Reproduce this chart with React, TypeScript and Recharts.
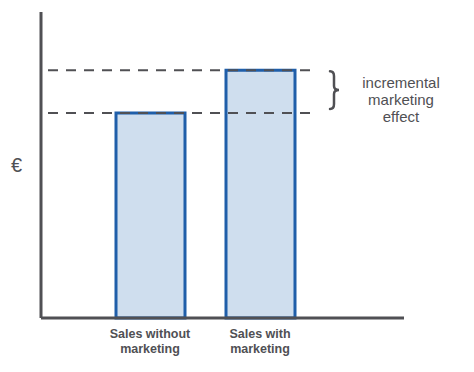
import React from "react";
import { BarChart, Bar, XAxis, YAxis, ReferenceLine, ReferenceArea } from "recharts";

const categories = ["Sales without marketing", "Sales with marketing"];
const tickLines = [["Sales without", "marketing"], ["Sales with", "marketing"]];
const salesValues = [67, 81];
const baselineValue = 67;
const withMarketingValue = 81;
const effectLabel = ["incremental", "marketing", "effect"];
const yLabel = "€";

const data = categories.map((c, i) => ({ name: c, value: salesValues[i] }));

const FONT = "'Liberation Sans', Arial, sans-serif";
const GREY = "#505054";

const DashedLine = (props: any) => {
  const { x1, y1 } = props;
  return (
    <line x1={x1 + 7} x2={x1 + 277} y1={y1} y2={y1} stroke={GREY} strokeWidth={2} strokeDasharray="10 8" />
  );
};

const Brace = (props: any) => {
  const { x, y, width, height } = props;
  const right = x + width;
  const bx = right + 19;
  const top = y;
  const bot = y + height - 3;
  const mid = (top + bot) / 2;
  const path = `M ${bx - 4} ${top + 1} Q ${bx} ${top + 1} ${bx} ${top + 6} L ${bx} ${mid - 4} Q ${bx} ${mid} ${bx + 5} ${mid} Q ${bx} ${mid} ${bx} ${mid + 4} L ${bx} ${bot - 6} Q ${bx} ${bot - 1} ${bx - 4} ${bot - 1}`;
  const tx = right + 86;
  const textTop = (y + y + height) / 2 - 3.5;
  return (
    <g>
      <path d={path} fill="none" stroke={GREY} strokeWidth={2.5} strokeLinecap="round" />
      <text x={tx} y={textTop} textAnchor="middle" fontFamily={FONT} fontSize={15} fill={GREY}>
        {effectLabel.map((t, i) => (
          <tspan key={i} x={tx} dy={i === 0 ? 0 : 17}>
            {t}
          </tspan>
        ))}
      </text>
    </g>
  );
};

const Tick = (props: any) => {
  const { x, y, index } = props;
  const lines = tickLines[index] || [];
  return (
    <text x={x} y={y + 18} textAnchor="middle" fontFamily={FONT} fontWeight="bold" fontSize={12.5} fill={GREY}>
      {lines.map((l, i) => (
        <tspan key={i} x={x} dy={i === 0 ? 0 : 15}>
          {l}
        </tspan>
      ))}
    </text>
  );
};

export default function App() {
  return (
    <div style={{ position: "absolute", left: 0, top: 0, background: "#fff" }}>
      <BarChart width={474} height={372} data={data} margin={{ top: 12, right: 70, bottom: 14, left: 0 }}>
        <XAxis
          dataKey="name"
          padding={{ left: 54, right: 89 }}
          axisLine={{ stroke: GREY, strokeWidth: 3 }}
          tickLine={false}
          tickSize={0}
          tick={<Tick />}
          height={40}
          interval={0}
        />
        <YAxis
          domain={[0, 100]}
          width={41}
          tick={false}
          tickLine={false}
          axisLine={{ stroke: GREY, strokeWidth: 3 }}
          label={{ value: yLabel, position: "insideLeft", offset: 11, fill: GREY, fontSize: 20, fontFamily: FONT }}
        />
        <Bar dataKey="value" barSize={69} fill="#cfdeee" stroke="#1f5ea9" strokeWidth={3} isAnimationActive={false} />
        <ReferenceLine y={withMarketingValue} shape={<DashedLine />} ifOverflow="visible" />
        <ReferenceLine y={baselineValue} shape={<DashedLine />} ifOverflow="visible" />
        <ReferenceArea y1={baselineValue} y2={withMarketingValue} shape={<Brace />} ifOverflow="visible" />
      </BarChart>
    </div>
  );
}
